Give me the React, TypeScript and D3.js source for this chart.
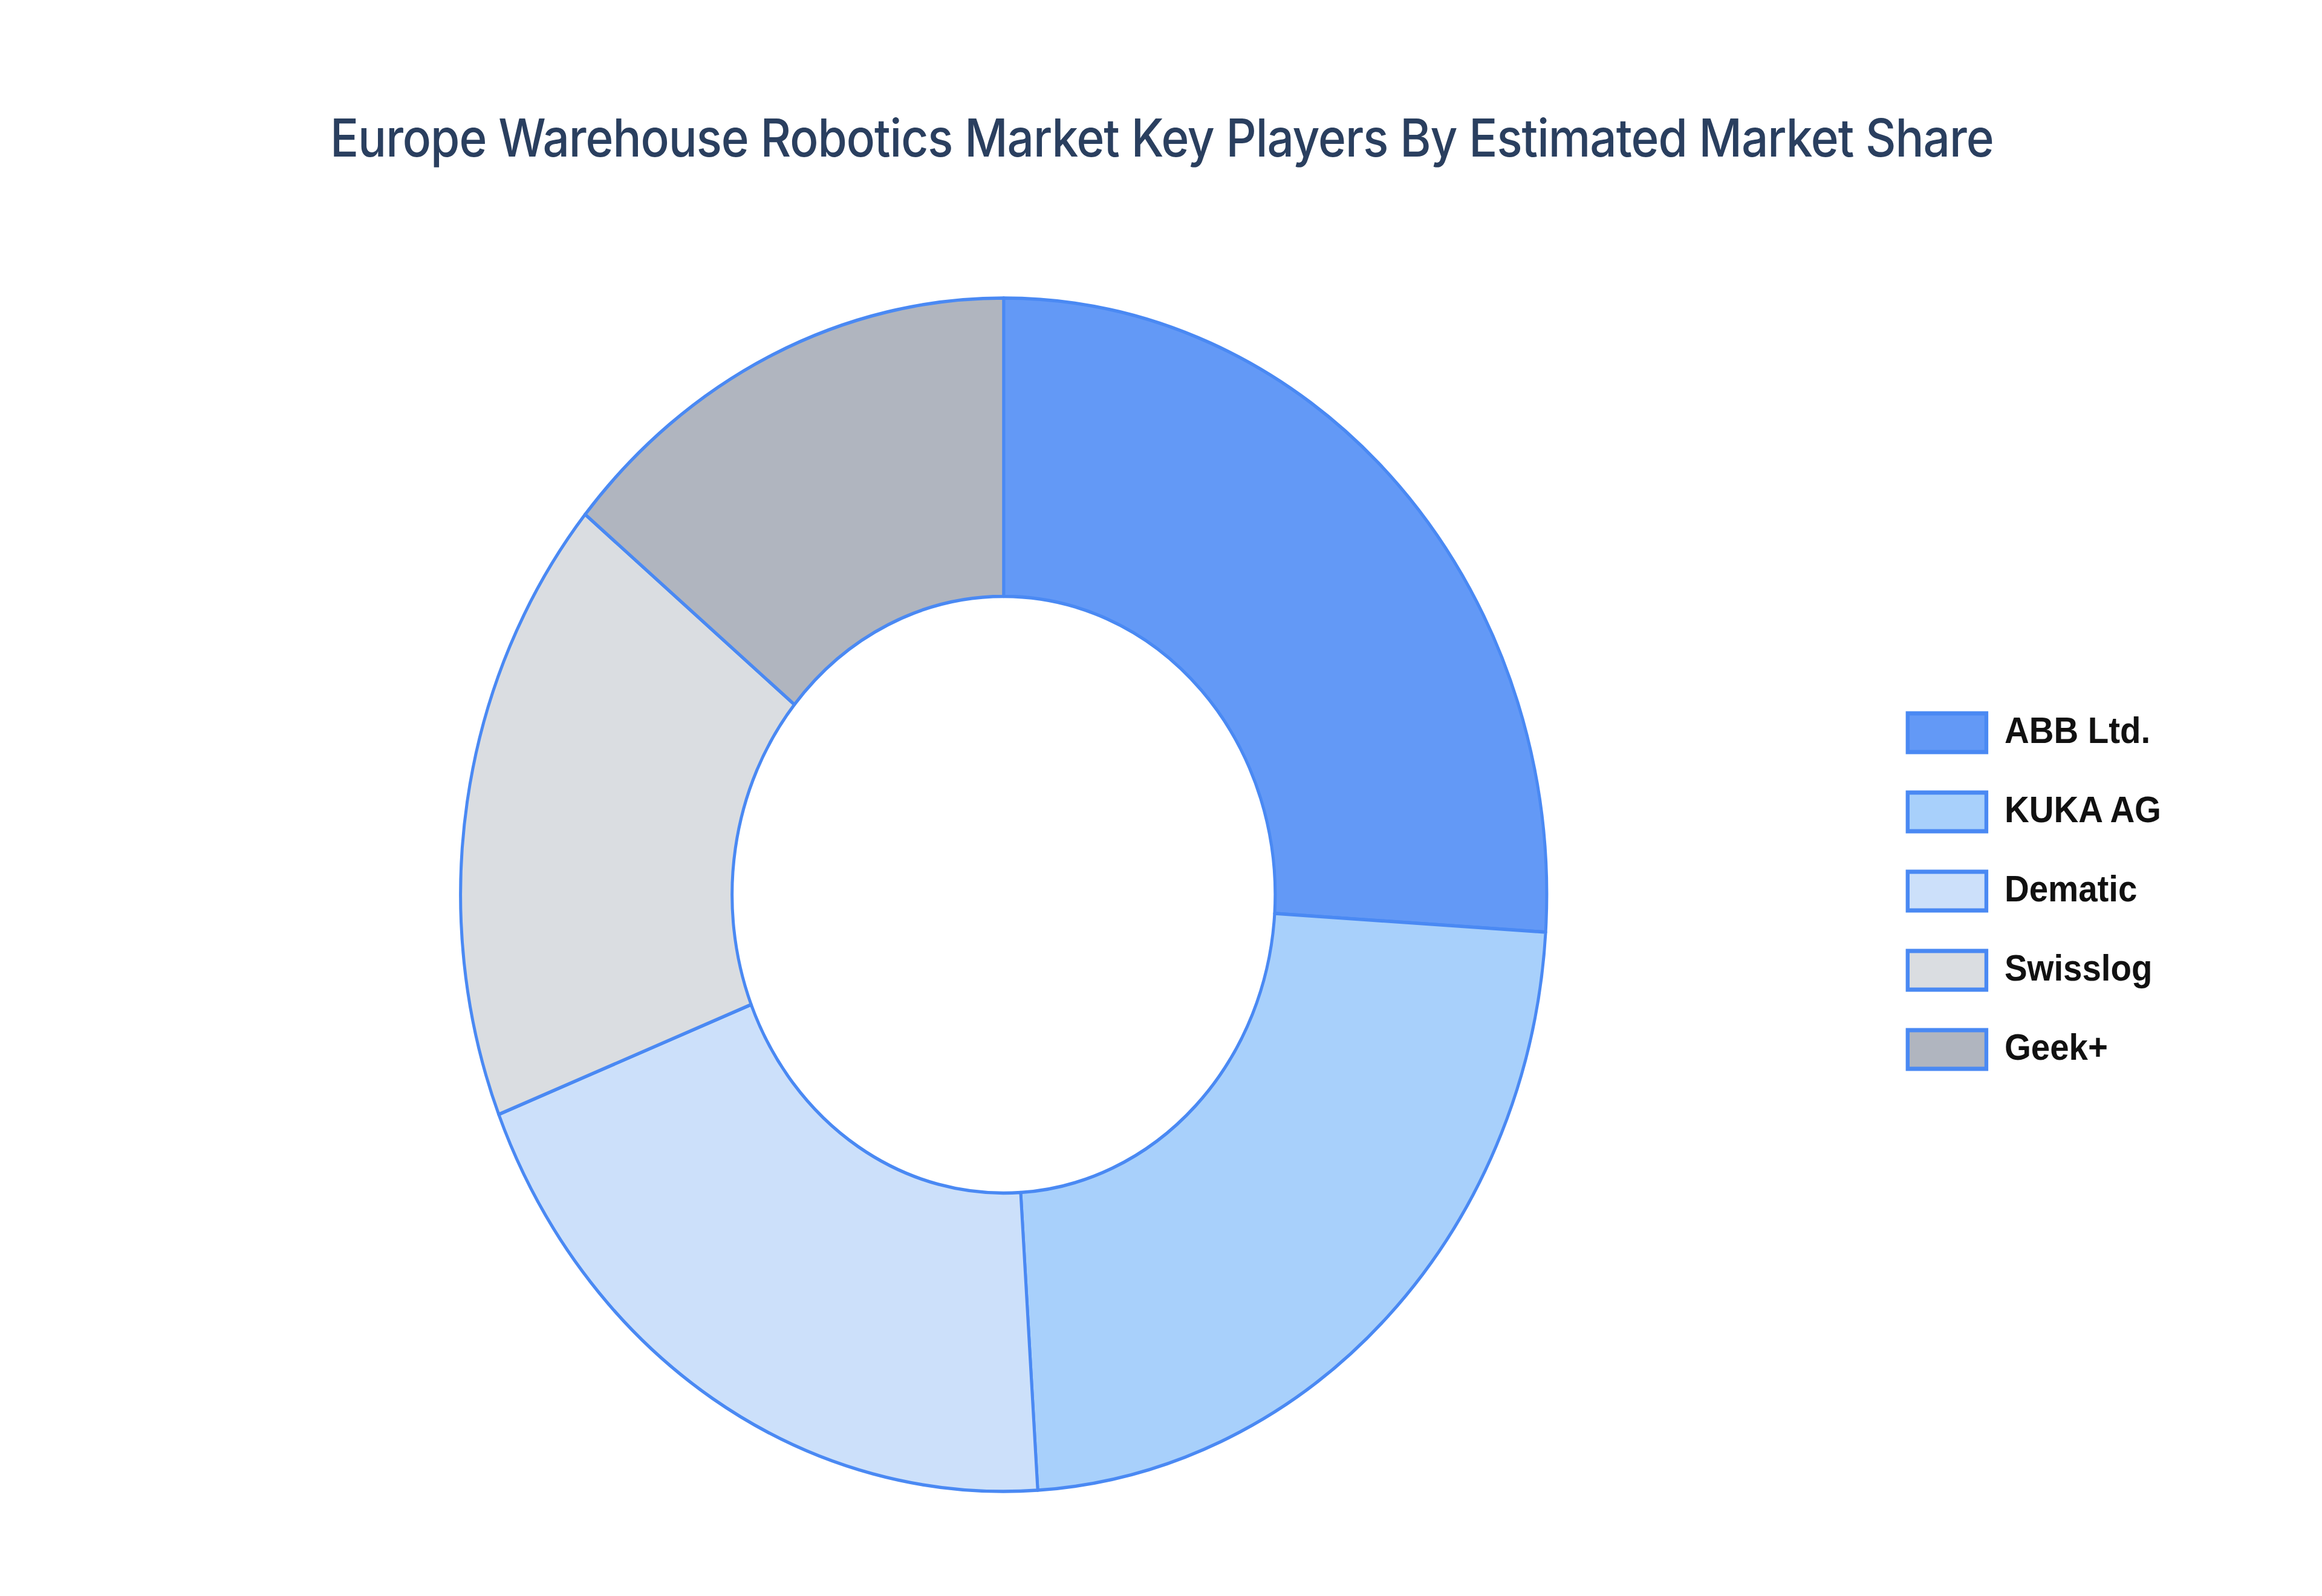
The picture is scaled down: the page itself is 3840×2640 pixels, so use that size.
import { select, pie, arc, PieArcDatum } from "d3";
import React, { useEffect, useRef } from "react";

// market share by player (%)
const players = ["ABB Ltd.", "KUKA AG", "Dematic", "Swisslog", "Geek+"];
const shares = [26, 23, 20, 17, 14];
const colors = ["#6399f6", "#a8d0fb", "#cce0fa", "#dadde1", "#b0b5bf"];

const title =
  "Europe Warehouse Robotics Market Key Players By Estimated Market Share";

type Slice = { name: string; value: number; color: string };

const App = () => {
  const chartRef = useRef<SVGSVGElement>(null);

  useEffect(() => {
    if (!chartRef.current) return;
    const svg = select(chartRef.current);
    svg.selectAll("*").remove();

    const data: Slice[] = players.map((p, i) => ({
      name: p,
      value: shares[i],
      color: colors[i],
    }));

    // picture is squeezed horizontally, so draw in a wider virtual space
    const vw = 4220;
    const vh = 2640;
    svg
      .attr("viewBox", `0 0 ${vw} ${vh}`)
      .attr("preserveAspectRatio", "none");

    svg
      .append("rect")
      .attr("width", vw)
      .attr("height", vh)
      .attr("fill", "#ffffff");

    // 제목
    svg
      .append("text")
      .attr("x", 2112)
      .attr("y", 259)
      .attr("text-anchor", "middle")
      .attr("font-family", "Inter, 'Open Sans', sans-serif")
      .attr("font-weight", 500)
      .attr("font-size", 86)
      .attr("textLength", 3024)
      .attr("fill", "#2a3f5f")
      .text(title);

    // 도넛
    const cx = 1824;
    const cy = 1480;
    const outer = 987;
    const inner = outer * 0.5;

    const pieGen = pie<Slice>()
      .value((d) => d.value)
      .sort(null);
    const arcGen = arc<PieArcDatum<Slice>>()
      .innerRadius(inner)
      .outerRadius(outer);

    const g = svg.append("g").attr("transform", `translate(${cx},${cy})`);
    g.selectAll("path")
      .data(pieGen(data))
      .enter()
      .append("path")
      .attr("d", arcGen)
      .attr("fill", (d) => d.data.color)
      .attr("stroke", "#4a89f3")
      .attr("stroke-width", 5.5)
      .attr("stroke-linejoin", "round");

    // 범례
    const legend = svg.append("g").attr("transform", "translate(3467,1180)");
    const rows = legend
      .selectAll("g")
      .data(data)
      .enter()
      .append("g")
      .attr("transform", (_, i) => `translate(0,${i * 131})`);

    rows
      .append("rect")
      .attr("x", 0)
      .attr("y", 0)
      .attr("width", 143)
      .attr("height", 64)
      .attr("fill", (d) => d.color)
      .attr("stroke", "#4a89f3")
      .attr("stroke-width", 7);

    rows
      .append("text")
      .attr("x", 176)
      .attr("y", 49)
      .attr("font-family", "'Liberation Sans', Arial, sans-serif")
      .attr("font-weight", "bold")
      .attr("font-size", 62)
      .attr("fill", "#111111")
      .text((d) => d.name);
  }, []);

  return (
    <svg
      ref={chartRef}
      width={3840}
      height={2640}
      style={{ position: "absolute", left: 0, top: 0, display: "block" }}
    ></svg>
  );
};

export default App;
